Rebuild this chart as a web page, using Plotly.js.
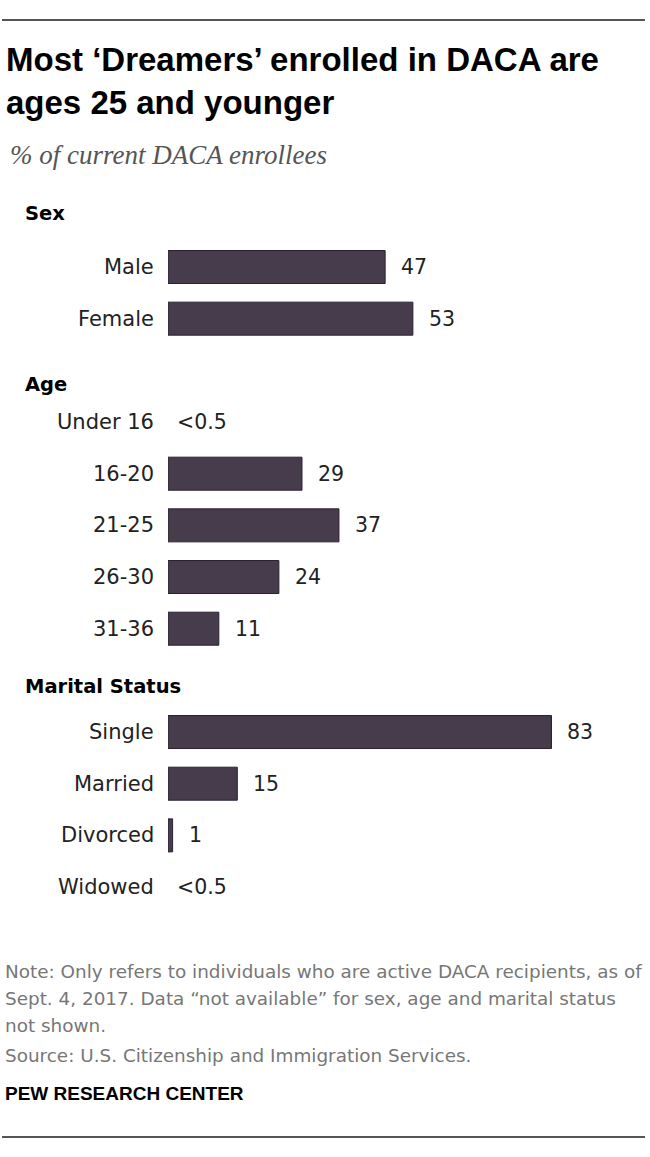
<!DOCTYPE html>
<html>
<head>
<meta charset="utf-8">
<script src="https://cdn.plot.ly/plotly-3.0.1.min.js"></script>
<style>html,body{margin:0;padding:0;background:#fff;}#chart{width:650px;height:1157px;}</style>
</head>
<body>
<div id="chart"></div>
<script>
// ---- data ----
const groupTitles = ["Sex", "Age", "Marital Status"];
const sexCategories = ["Male", "Female"];
const sexValues = [47, 53];
const sexLabels = ["47", "53"];
const ageCategories = ["Under 16", "16-20", "21-25", "26-30", "31-36"];
const ageValues = [null, 29, 37, 24, 11];
const ageLabels = ["<0.5", "29", "37", "24", "11"];
const maritalCategories = ["Single", "Married", "Divorced", "Widowed"];
const maritalValues = [83, 15, 1, null];
const maritalLabels = ["83", "15", "1", "<0.5"];

const titleLines = ["Most \u2018Dreamers\u2019 enrolled in DACA are", "ages 25 and younger"];
const subtitle = "% of current DACA enrollees";
const noteLines = [
  "Note: Only refers to individuals who are active DACA recipients, as of",
  "Sept. 4, 2017. Data \u201cnot available\u201d for sex, age and marital status",
  "not shown.",
  "Source: U.S. Citizenship and Immigration Services."
];
const credit = "PEW RESEARCH CENTER";

// ---- layout helpers ----
const W = 650, H = 1157;
const plotL = 168, plotR = 650, plotT = 190, plotB = 910;
const pxX = p => (p - plotL) / (plotR - plotL);
const pxY = p => (plotB - p) / (plotB - plotT);
const rowPx0 = 267, rowStep = 51.67;
const slotAt = p => (p - rowPx0) / rowStep;

const groups = [
  {cats: sexCategories, vals: sexValues, labs: sexLabels, hdr: -1.03},
  {cats: ageCategories, vals: ageValues, labs: ageLabels, hdr: -0.72},
  {cats: maritalCategories, vals: maritalValues, labs: maritalLabels, hdr: -0.88}
];

const ys = [], xs = [], annotations = [];
const catFont = {family: "DejaVu Sans, sans-serif", size: 21, color: "#222"};
const valFont = {family: "DejaVu Sans, sans-serif", size: 20.5, color: "#222"};
let slot = 0;
groups.forEach((g, gi) => {
  if (gi > 0) slot += 1;
  annotations.push({
    text: "<b>" + groupTitles[gi] + "</b>", xref: "paper", x: pxX(23), xanchor: "left",
    yref: "y", y: slot + g.hdr, yanchor: "middle", showarrow: false,
    font: {family: "DejaVu Sans, sans-serif", size: 19.5, color: "#000"}
  });
  g.cats.forEach((c, i) => {
    ys.push(slot); xs.push(g.vals[i]);
    annotations.push({text: c, xref: "x", x: 0, xanchor: "right", xshift: -12,
      yref: "y", y: slot, yanchor: "middle", showarrow: false, font: catFont});
    annotations.push({text: g.labs[i], xref: "x", x: g.vals[i] === null ? 0 : g.vals[i],
      xanchor: "left", xshift: g.vals[i] === null ? 7 : 14,
      yref: "y", y: slot, yanchor: "middle", showarrow: false, font: valFont});
    slot++;
  });
});

// titles & notes
const titleFont = {family: "Liberation Sans, Arial, sans-serif", size: 33, color: "#000"};
annotations.push({text: "<b>" + titleLines[0] + "</b>", xref: "paper", x: pxX(4), xanchor: "left",
  yref: "paper", y: pxY(59), yanchor: "middle", showarrow: false, font: titleFont});
annotations.push({text: "<b>" + titleLines[1] + "</b>", xref: "paper", x: pxX(4), xanchor: "left",
  yref: "paper", y: pxY(103), yanchor: "middle", showarrow: false, font: titleFont});
annotations.push({text: "<i>" + subtitle + "</i>", xref: "paper", x: pxX(8), xanchor: "left",
  yref: "paper", y: pxY(155), yanchor: "middle", showarrow: false,
  font: {family: "Liberation Serif, serif", size: 27, color: "#555"}});
const noteY = [971, 998, 1025, 1055];
noteLines.forEach((t, i) => {
  annotations.push({text: t, xref: "paper", x: pxX(3), xanchor: "left",
    yref: "paper", y: pxY(noteY[i]), yanchor: "middle", showarrow: false,
    font: {family: "DejaVu Sans, sans-serif", size: 18.4, color: "#777"}});
});
annotations.push({text: "<b>" + credit + "</b>", xref: "paper", x: pxX(3), xanchor: "left",
  yref: "paper", y: pxY(1093), yanchor: "middle", showarrow: false,
  font: {family: "Liberation Sans, Arial, sans-serif", size: 19, color: "#000"}});

const trace = {
  type: "bar", orientation: "h", x: xs, y: ys, width: 33 / rowStep,
  marker: {color: "#463c4b", line: {color: "#2a2130", width: 1}},
  hoverinfo: "skip"
};

const layout = {
  width: W, height: H,
  margin: {l: plotL, r: W - plotR, t: plotT, b: H - plotB, pad: 0},
  paper_bgcolor: "#fff", plot_bgcolor: "#fff",
  showlegend: false,
  xaxis: {range: [0, (plotR - plotL) / 4.62], visible: false, fixedrange: true},
  yaxis: {range: [slotAt(plotB), slotAt(plotT)], visible: false, fixedrange: true},
  annotations: annotations,
  shapes: [
    {type: "line", xref: "paper", yref: "paper", x0: pxX(2), x1: pxX(645), y0: pxY(20), y1: pxY(20),
      line: {color: "#555", width: 2}},
    {type: "line", xref: "paper", yref: "paper", x0: pxX(2), x1: pxX(645), y0: pxY(1137), y1: pxY(1137),
      line: {color: "#555", width: 2}}
  ]
};

Plotly.newPlot("chart", [trace], layout, {staticPlot: true, displayModeBar: false});
</script>
</body>
</html>
